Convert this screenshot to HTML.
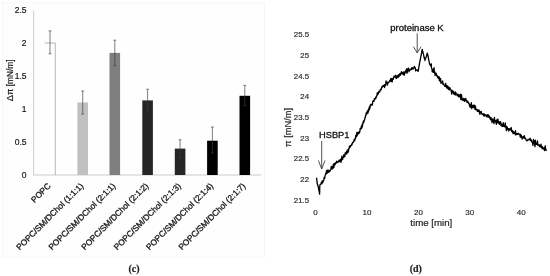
<!DOCTYPE html>
<html><head><meta charset="utf-8"><title>Figure</title>
<style>
html,body{margin:0;padding:0;background:#fff;}
svg{display:block;font-family:"Liberation Sans",sans-serif;}
text{stroke:#222;stroke-width:0.18px;}
</style></head>
<body>
<svg width="550" height="276" viewBox="0 0 550 276">
<rect width="550" height="276" fill="#ffffff"/>
<rect x="2.5" y="3" width="262" height="254" fill="#fefefe" stroke="#f6f6f6" stroke-width="1"/>
<path d="M33.6 10.5V175H261" fill="none" stroke="#c6c6c6" stroke-width="0.9"/>
<path d="M44.7 43.0H55.3V175" fill="none" stroke="#9a9a9a" stroke-width="0.7"/>
<path d="M50 30.9V53.8M48.6 30.9h2.8M48.6 53.8h2.8" fill="none" stroke="#3c3c3c" stroke-width="0.65"/>
<text transform="translate(51.3,186.4) rotate(-45)" text-anchor="end" font-size="8.4" fill="#111" style="stroke-width:0.3px">POPC</text>
<rect x="77.4" y="102.4" width="10.6" height="72.6" fill="#c0c0c0"/>
<path d="M82.7 91V114M81.3 91h2.8M81.3 114h2.8" fill="none" stroke="#3c3c3c" stroke-width="0.65"/>
<text transform="translate(84.0,186.4) rotate(-45)" text-anchor="end" font-size="8.4" fill="#111" style="stroke-width:0.3px">POPC/SM/DChol (1:1:1)</text>
<rect x="109.5" y="52.9" width="10.6" height="122.1" fill="#7f7f7f"/>
<path d="M114.8 40.2V65.6M113.39999999999999 40.2h2.8M113.39999999999999 65.6h2.8" fill="none" stroke="#3c3c3c" stroke-width="0.65"/>
<text transform="translate(116.1,186.4) rotate(-45)" text-anchor="end" font-size="8.4" fill="#111" style="stroke-width:0.3px">POPC/SM/DChol (2:1:1)</text>
<rect x="142.3" y="100.4" width="10.6" height="74.6" fill="#262626"/>
<path d="M147.6 89.3V110.5M146.2 89.3h2.8M146.2 110.5h2.8" fill="none" stroke="#3c3c3c" stroke-width="0.65"/>
<text transform="translate(148.9,186.4) rotate(-45)" text-anchor="end" font-size="8.4" fill="#111" style="stroke-width:0.3px">POPC/SM/DChol (2:1:2)</text>
<rect x="174.8" y="148.6" width="10.6" height="26.4" fill="#262626"/>
<path d="M180.1 139.8V157.5M178.7 139.8h2.8M178.7 157.5h2.8" fill="none" stroke="#3c3c3c" stroke-width="0.65"/>
<text transform="translate(181.4,186.4) rotate(-45)" text-anchor="end" font-size="8.4" fill="#111" style="stroke-width:0.3px">POPC/SM/DChol (2:1:3)</text>
<rect x="207.1" y="140.7" width="10.6" height="34.3" fill="#000000"/>
<path d="M212.4 127V153M211.0 127h2.8M211.0 153h2.8" fill="none" stroke="#3c3c3c" stroke-width="0.65"/>
<text transform="translate(213.7,186.4) rotate(-45)" text-anchor="end" font-size="8.4" fill="#111" style="stroke-width:0.3px">POPC/SM/DChol (2:1:4)</text>
<rect x="239.5" y="95.8" width="10.6" height="79.2" fill="#000000"/>
<path d="M244.8 85.4V105.8M243.4 85.4h2.8M243.4 105.8h2.8" fill="none" stroke="#3c3c3c" stroke-width="0.65"/>
<text transform="translate(246.1,186.4) rotate(-45)" text-anchor="end" font-size="8.4" fill="#111" style="stroke-width:0.3px">POPC/SM/DChol (2:1:7)</text>
<text x="26.5" y="178.2" text-anchor="end" font-size="8.5" fill="#111">0</text>
<text x="26.5" y="145.2" text-anchor="end" font-size="8.5" fill="#111">0.5</text>
<text x="26.5" y="112.2" text-anchor="end" font-size="8.5" fill="#111">1</text>
<text x="26.5" y="79.2" text-anchor="end" font-size="8.5" fill="#111">1.5</text>
<text x="26.5" y="46.2" text-anchor="end" font-size="8.5" fill="#111">2</text>
<text x="26.5" y="13.2" text-anchor="end" font-size="8.5" fill="#111">2.5</text>
<text transform="translate(12.8,80.3) rotate(-90)" text-anchor="middle" font-size="8.3" fill="#111"><tspan font-size="9.3">Δπ</tspan> [mN/m]</text>
<text x="134" y="271.8" text-anchor="middle" font-size="10" font-weight="bold" font-family="'Liberation Serif',serif" fill="#222">(c)</text>
<text x="309" y="202.7" text-anchor="end" font-size="7.8" fill="#333">21.5</text>
<text x="309" y="182.0" text-anchor="end" font-size="7.8" fill="#333">22</text>
<text x="309" y="161.4" text-anchor="end" font-size="7.8" fill="#333">22.5</text>
<text x="309" y="140.7" text-anchor="end" font-size="7.8" fill="#333">23</text>
<text x="309" y="120.1" text-anchor="end" font-size="7.8" fill="#333">23.5</text>
<text x="309" y="99.4" text-anchor="end" font-size="7.8" fill="#333">24</text>
<text x="309" y="78.7" text-anchor="end" font-size="7.8" fill="#333">24.5</text>
<text x="309" y="58.1" text-anchor="end" font-size="7.8" fill="#333">25</text>
<text x="309" y="37.4" text-anchor="end" font-size="7.8" fill="#333">25.5</text>
<text x="315.6" y="214.5" text-anchor="middle" font-size="8" fill="#333">0</text>
<text x="367.0" y="214.5" text-anchor="middle" font-size="8" fill="#333">10</text>
<text x="418.4" y="214.5" text-anchor="middle" font-size="8" fill="#333">20</text>
<text x="469.8" y="214.5" text-anchor="middle" font-size="8" fill="#333">30</text>
<text x="521.2" y="214.5" text-anchor="middle" font-size="8" fill="#333">40</text>
<text transform="translate(290.5,127.5) rotate(-90)" text-anchor="middle" font-size="9.3" fill="#222"><tspan font-size="9.6">π</tspan> [mN/m]</text>
<text x="431.3" y="226" text-anchor="middle" font-size="9.7" fill="#222">time [min]</text>
<text x="319" y="138.4" font-size="9.3" fill="#000" style="stroke-width:0.3px">HSBP1</text>
<path d="M321.7 141V169M318.4 160.5L321.7 169L325 160.5" fill="none" stroke="#333" stroke-width="0.85"/>
<text x="417" y="31.2" text-anchor="middle" font-size="9.5" fill="#000" style="stroke-width:0.3px">proteinase K</text>
<path d="M417.2 33.3V52.8M413.4 46.7L417.2 52.8L421 46.7" fill="none" stroke="#333" stroke-width="0.85"/>
<polyline points="316.5,177.8 316.6,178.1 316.6,178.9 316.7,178.5 316.7,179.3 316.8,179.4 316.9,180.6 316.9,181.3 317.0,181.0 317.0,182.3 317.1,182.6 317.1,182.7 317.2,182.5 317.3,184.1 317.5,184.1 317.6,184.3 317.8,185.1 317.9,185.6 318.0,186.4 318.2,186.0 318.3,187.2 318.4,187.8 318.5,188.2 318.5,188.1 318.6,188.4 318.7,189.5 318.8,189.6 318.9,190.1 319.0,191.0 319.0,190.9 319.1,190.6 319.2,191.8 319.3,191.7 319.4,193.1 319.4,193.4 319.5,193.5 319.6,194.2 319.6,194.0 319.6,193.3 319.6,193.3 319.6,192.3 319.7,192.3 319.7,192.0 319.7,191.5 319.7,190.3 319.7,190.4 319.7,188.9 319.7,188.8 319.7,188.0 319.7,188.6 319.7,187.3 319.8,187.3 319.8,186.8 319.8,186.4 319.8,185.7 319.8,185.5 319.8,185.6 320.1,184.6 320.4,184.4 320.7,184.2 321.1,183.6 321.4,182.2 321.7,182.6 322.0,183.8 322.3,180.7 322.5,181.3 322.8,182.5 323.0,181.8 323.3,180.6 323.5,180.9 323.8,179.9 324.0,178.1 324.3,177.2 324.5,177.5 324.7,178.5 324.9,176.4 325.2,175.4 325.4,174.9 325.6,173.6 325.8,174.4 326.1,172.7 326.3,173.7 326.5,170.6 326.7,173.1 327.0,172.0 327.2,170.5 327.4,173.0 327.7,171.9 328.0,169.9 328.3,171.2 328.6,172.3 328.9,171.2 329.1,171.9 329.4,171.5 329.7,170.9 330.0,170.2 330.3,170.7 330.6,169.7 330.9,169.1 331.3,166.3 331.6,168.9 331.9,169.0 332.2,167.1 332.6,166.6 332.9,168.7 333.2,164.5 333.6,166.1 333.9,167.4 334.2,163.4 334.6,164.4 335.0,164.9 335.5,162.6 335.9,163.1 336.3,163.2 336.7,161.2 337.2,161.8 337.6,162.0 338.0,162.5 338.3,161.5 338.7,161.1 339.0,160.1 339.3,160.6 339.6,161.6 340.0,160.6 340.3,159.4 340.6,159.1 341.0,162.3 341.3,160.6 341.6,159.7 341.8,156.2 342.1,159.1 342.3,158.7 342.6,159.6 342.8,158.0 343.1,157.2 343.3,157.5 343.6,154.8 343.8,157.4 344.1,156.4 344.3,154.9 344.6,156.5 344.9,156.6 345.1,153.0 345.4,153.3 345.7,153.8 345.9,153.3 346.2,152.3 346.5,151.4 346.7,154.2 347.0,152.8 347.3,150.3 347.5,149.8 347.8,152.6 348.1,151.5 348.3,152.1 348.6,150.6 348.8,148.4 349.1,149.0 349.4,146.1 349.6,147.0 349.9,147.2 350.1,147.3 350.4,145.5 350.6,145.6 350.9,145.9 351.1,145.6 351.3,145.5 351.6,144.8 351.8,144.0 352.0,144.8 352.2,143.8 352.5,142.5 352.7,142.4 352.9,142.7 353.1,142.2 353.4,142.1 353.6,141.5 353.8,141.3 354.0,140.6 354.3,139.1 354.5,140.4 354.7,140.7 354.9,139.6 355.2,138.6 355.4,138.8 355.6,136.9 355.8,135.5 356.0,137.0 356.2,135.5 356.4,136.7 356.6,134.5 356.8,132.5 357.0,133.6 357.2,135.8 357.4,133.5 357.6,132.3 357.8,132.6 358.1,133.6 358.3,133.3 358.5,132.7 358.7,133.8 358.9,132.7 359.1,131.7 359.3,132.1 359.5,132.8 359.7,131.6 359.9,131.2 360.1,128.6 360.3,129.1 360.5,129.5 360.7,128.0 360.9,128.9 361.1,127.9 361.2,127.8 361.4,126.1 361.6,128.4 361.8,126.7 362.0,124.9 362.2,124.8 362.4,126.9 362.5,123.6 362.7,124.4 362.9,124.1 363.1,122.7 363.3,121.2 363.5,122.1 363.6,121.9 363.8,122.3 364.0,121.4 364.2,120.1 364.4,120.4 364.6,119.6 364.8,118.8 364.9,118.1 365.1,117.3 365.3,117.7 365.5,115.4 365.7,115.3 365.9,115.5 366.1,113.5 366.3,114.2 366.5,112.2 366.7,113.1 366.9,113.9 367.1,113.5 367.3,112.5 367.5,111.9 367.7,110.3 367.9,113.1 368.2,111.4 368.4,111.6 368.6,109.3 368.8,109.6 369.0,107.6 369.2,109.8 369.4,109.5 369.6,106.3 369.8,107.8 370.0,108.1 370.2,105.3 370.4,104.9 370.6,105.2 370.8,105.3 371.1,104.1 371.3,105.2 371.5,105.0 371.8,105.0 372.0,104.7 372.2,105.1 372.5,104.4 372.7,101.5 372.9,101.9 373.1,101.0 373.4,100.7 373.6,101.3 373.8,101.0 374.1,101.2 374.3,98.7 374.5,98.7 374.8,99.6 375.0,99.0 375.2,98.4 375.5,98.3 375.7,97.1 376.0,98.2 376.2,97.4 376.5,96.6 376.7,95.6 377.0,95.7 377.2,92.8 377.5,94.0 377.7,94.6 378.0,92.6 378.2,93.9 378.5,93.4 378.8,91.5 379.0,92.2 379.3,91.7 379.5,92.0 379.8,91.8 380.0,90.7 380.3,89.5 380.5,89.8 380.8,89.4 381.1,89.8 381.4,89.0 381.6,87.6 381.9,86.6 382.2,87.2 382.5,86.5 382.8,85.8 383.1,86.4 383.3,85.7 383.6,86.0 383.9,86.2 384.2,85.0 384.5,87.5 384.8,84.6 385.0,86.1 385.3,84.5 385.6,85.6 386.0,80.8 386.4,82.4 386.8,83.2 387.1,83.2 387.5,85.0 387.9,81.9 388.3,82.9 388.7,82.1 389.1,82.1 389.4,81.4 389.8,80.4 390.2,81.1 390.6,78.8 391.0,81.5 391.4,78.4 391.8,79.8 392.2,81.9 392.5,78.6 392.9,78.4 393.3,79.4 393.7,77.4 394.1,75.9 394.5,76.8 394.9,77.1 395.3,77.2 395.7,75.2 396.1,78.5 396.5,78.3 396.9,76.1 397.3,76.4 397.7,75.4 398.1,77.7 398.6,74.9 399.0,76.6 399.4,74.6 399.8,73.7 400.2,75.0 400.6,75.2 401.0,72.9 401.4,71.7 401.8,73.6 402.2,72.5 402.6,73.0 403.1,74.6 403.5,74.0 403.9,71.7 404.3,75.2 404.8,72.1 405.2,72.9 405.6,70.9 406.0,71.4 406.5,68.9 406.9,73.3 407.3,72.4 407.7,68.8 408.2,68.4 408.6,68.2 409.0,71.8 409.5,69.7 409.9,70.2 410.4,69.7 410.8,69.7 411.3,68.2 411.7,69.4 412.2,67.3 412.6,68.8 413.1,68.9 413.5,68.8 414.0,67.6 414.4,66.4 414.9,67.9 415.3,67.7 415.6,70.9 416.0,70.4 416.3,69.8 416.7,69.8 417.0,70.1 417.4,70.3 417.7,70.8 418.1,71.4 418.2,71.0 418.3,70.6 418.4,70.6 418.4,69.2 418.5,68.9 418.6,69.4 418.7,67.3 418.8,67.3 418.9,67.1 419.0,66.6 419.0,66.3 419.1,65.6 419.2,65.3 419.3,64.7 419.4,64.5 419.5,63.1 419.6,63.0 419.6,62.9 419.7,62.1 419.8,61.7 419.9,61.8 420.0,60.9 420.1,60.9 420.2,60.5 420.2,59.9 420.3,59.5 420.4,58.9 420.5,57.9 420.6,58.0 420.7,57.7 420.8,56.9 420.8,56.6 420.9,56.5 421.0,55.5 421.1,55.5 421.2,55.5 421.3,54.2 421.3,54.0 421.4,53.5 421.5,53.6 421.6,52.7 421.7,52.5 421.8,51.5 421.9,51.3 421.9,50.8 422.0,49.8 422.1,50.5 422.2,49.8 422.3,49.3 422.4,50.6 422.5,50.8 422.6,51.4 422.8,51.8 422.9,51.6 423.0,52.5 423.1,53.5 423.2,53.2 423.3,53.5 423.4,53.8 423.5,54.3 423.7,55.3 423.8,56.2 423.9,56.2 424.0,56.6 424.1,57.7 424.2,57.2 424.3,57.5 424.4,58.4 424.6,58.8 424.7,58.7 424.8,59.1 424.9,60.1 425.0,60.5 425.1,59.5 425.3,59.5 425.4,58.9 425.5,58.8 425.7,58.2 425.8,57.8 425.9,57.3 426.1,57.3 426.2,57.0 426.4,56.0 426.5,56.0 426.6,55.0 426.8,54.8 426.9,54.7 427.0,54.5 427.2,53.4 427.3,53.1 427.4,53.6 427.5,53.5 427.6,54.4 427.7,54.6 427.8,55.4 427.9,55.4 428.0,55.5 428.1,56.7 428.2,57.2 428.3,57.3 428.4,58.3 428.4,58.3 428.5,58.7 428.6,59.5 428.7,59.2 428.8,60.0 428.9,60.6 429.0,61.4 429.1,61.5 429.2,62.1 429.3,62.2 429.4,63.0 429.5,63.9 429.7,63.5 430.0,64.9 430.2,64.3 430.4,64.9 430.6,65.4 430.9,66.1 431.1,64.4 431.3,63.8 431.5,67.9 431.8,68.6 432.0,68.9 432.2,71.8 432.4,69.1 432.7,69.4 432.9,70.7 433.1,70.3 433.3,72.3 433.6,68.8 433.8,70.3 434.1,67.7 434.3,72.5 434.6,71.4 434.8,73.5 435.1,75.5 435.4,73.1 435.6,73.2 435.9,73.3 436.1,73.2 436.4,73.9 436.6,75.9 436.9,75.5 437.2,75.8 437.4,75.9 437.7,77.6 437.9,77.4 438.2,76.9 438.5,78.3 438.7,77.6 439.0,76.7 439.3,80.5 439.5,79.7 439.8,78.2 440.1,81.3 440.4,80.8 440.6,78.7 440.9,83.2 441.2,81.9 441.6,83.0 441.9,82.4 442.3,82.3 442.6,80.8 443.0,84.4 443.3,83.7 443.6,83.7 444.0,85.0 444.3,85.1 444.7,86.4 445.0,85.5 445.4,86.2 445.7,83.4 446.0,85.7 446.4,87.1 446.7,87.9 447.1,85.7 447.4,86.0 447.8,88.6 448.1,86.5 448.5,88.2 448.8,89.7 449.2,87.9 449.5,89.8 449.9,87.7 450.3,89.4 450.6,89.4 451.0,90.1 451.4,91.9 451.7,94.0 452.1,90.4 452.4,90.9 452.8,92.7 453.2,91.1 453.5,93.5 453.9,94.0 454.3,93.1 454.6,94.3 455.0,91.8 455.3,95.0 455.7,92.2 456.1,93.5 456.4,93.8 456.8,94.0 457.1,95.7 457.5,94.7 457.9,94.1 458.2,95.3 458.6,96.8 459.0,95.0 459.3,95.7 459.7,97.0 460.0,96.0 460.4,94.2 460.8,99.4 461.1,99.6 461.5,94.7 461.9,97.8 462.2,99.0 462.6,100.3 462.9,100.3 463.3,99.2 463.7,98.4 464.0,100.0 464.4,101.4 464.8,98.8 465.1,99.1 465.5,100.6 465.8,98.4 466.2,100.8 466.6,100.8 466.9,102.2 467.3,100.9 467.7,101.2 468.0,102.3 468.4,103.2 468.8,102.9 469.2,104.2 469.5,105.6 469.9,106.4 470.3,107.4 470.6,104.4 471.0,105.1 471.4,102.7 471.7,108.7 472.1,105.4 472.5,106.5 472.8,107.3 473.2,105.1 473.6,107.6 474.0,107.2 474.3,105.1 474.7,108.1 475.1,109.5 475.4,105.8 475.8,109.6 476.2,109.1 476.5,109.7 476.9,109.9 477.3,111.3 477.7,109.6 478.0,111.3 478.4,110.0 478.8,111.8 479.1,110.2 479.5,111.5 479.9,114.3 480.2,113.0 480.6,112.4 481.0,111.3 481.3,111.9 481.7,113.4 482.1,114.5 482.5,114.0 482.8,114.3 483.2,113.8 483.6,115.9 483.9,113.9 484.3,113.9 484.7,116.0 485.1,115.2 485.5,115.0 485.8,114.8 486.2,115.4 486.6,116.8 487.0,116.7 487.4,114.7 487.8,116.8 488.2,116.5 488.6,115.0 488.9,117.3 489.3,116.1 489.7,116.6 490.1,118.6 490.5,119.8 490.9,117.7 491.3,119.7 491.7,118.3 492.0,122.7 492.4,119.2 492.8,121.6 493.2,119.4 493.6,121.5 494.0,123.5 494.4,117.5 494.8,120.4 495.1,121.8 495.5,121.3 495.9,120.6 496.3,124.3 496.7,121.5 497.1,119.3 497.5,122.5 497.9,119.1 498.2,123.0 498.6,121.2 499.0,122.5 499.4,124.3 499.8,123.2 500.2,121.6 500.6,121.6 501.0,125.7 501.3,125.5 501.7,123.9 502.1,126.5 502.5,126.3 502.9,126.4 503.3,122.6 503.7,125.1 504.1,126.6 504.5,126.3 504.9,126.8 505.3,122.9 505.6,126.7 506.0,127.5 506.4,130.6 506.8,126.4 507.2,127.6 507.6,128.5 508.0,129.9 508.4,128.6 508.8,131.0 509.2,128.7 509.6,130.0 510.0,129.0 510.4,129.8 510.8,128.7 511.2,127.5 511.6,131.5 511.9,131.0 512.3,130.5 512.7,132.0 513.1,133.6 513.5,131.4 513.9,132.7 514.3,133.6 514.7,133.8 515.1,132.8 515.5,130.6 515.9,135.1 516.3,134.0 516.7,133.8 517.1,133.6 517.5,134.4 517.8,133.7 518.2,133.2 518.6,133.9 519.0,134.4 519.4,134.6 519.8,134.2 520.2,136.8 520.6,134.5 521.0,137.3 521.4,135.4 521.8,137.4 522.2,139.0 522.7,137.6 523.1,136.5 523.5,137.7 523.9,138.0 524.3,135.7 524.7,137.4 525.1,138.7 525.5,138.2 525.9,139.3 526.4,140.4 526.8,140.7 527.2,140.9 527.6,140.4 528.0,139.3 528.4,139.7 528.8,139.3 529.2,139.5 529.7,139.9 530.1,138.2 530.5,140.2 530.9,140.8 531.3,139.9 531.7,141.5 532.1,142.6 532.5,142.1 532.9,145.4 533.4,139.5 533.8,142.7 534.2,140.7 534.6,144.5 535.0,146.7 535.4,140.1 535.8,143.6 536.2,144.3 536.6,143.3 537.1,144.5 537.5,141.0 537.9,145.3 538.3,145.1 538.7,145.0 539.1,144.7 539.5,146.7 539.9,145.6 540.3,146.8 540.7,146.2 541.0,144.2 541.4,147.3 541.8,147.9 542.2,148.8 542.6,146.7 543.0,147.8 543.4,148.7 543.8,148.1 544.2,149.5 544.5,150.6 544.9,147.0 545.3,145.8 545.7,149.5 546.1,150.5 546.5,149.5" fill="none" stroke="#000" stroke-width="1.3" stroke-linejoin="round"/>
<text x="415.8" y="271.8" text-anchor="middle" font-size="10" font-weight="bold" font-family="'Liberation Serif',serif" fill="#222">(d)</text>
</svg>
</body></html>
